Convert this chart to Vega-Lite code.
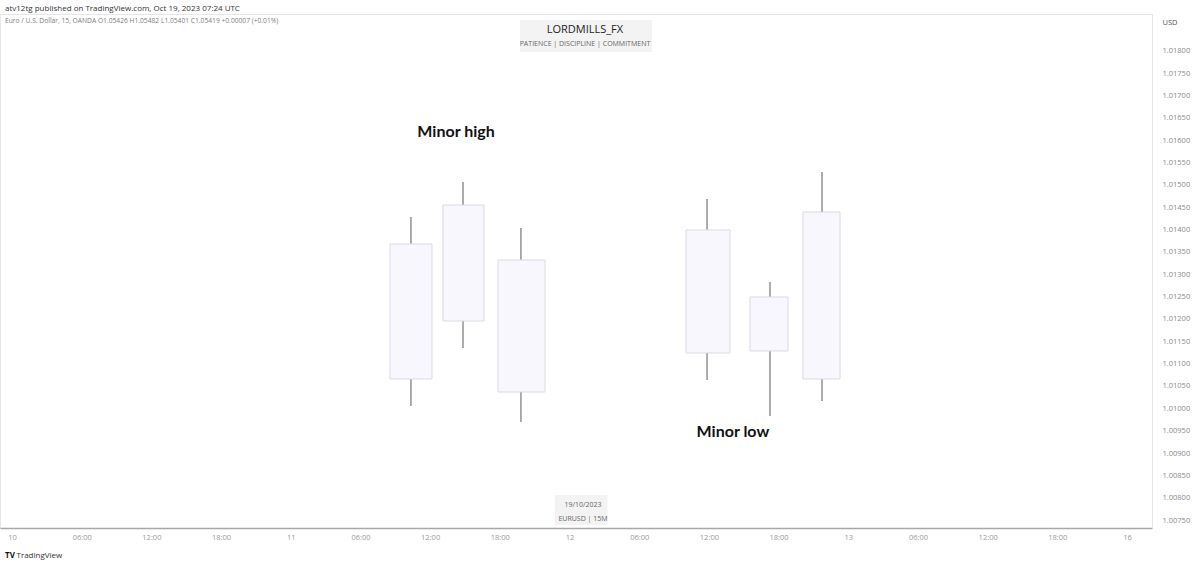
{
  "$schema": "https://vega.github.io/schema/vega-lite/v6.json",
  "width": 1152,
  "height": 514,
  "autosize": {"type": "none"},
  "padding": {"left": 0, "top": 14, "right": 48, "bottom": 36},
  "background": "white",
  "view": {"stroke": "#e6e6ea"},
  "title": {
    "text": "atv12tg published on TradingView.com, Oct 19, 2023 07:24 UTC",
    "anchor": "start",
    "dx": 5,
    "dy": 9,
    "offset": 2,
    "baseline": "bottom",
    "font": "Open Sans",
    "fontSize": 8,
    "fontWeight": "normal",
    "color": "#333333"
  },
  "config": {"font": "Open Sans"},
  "datasets": {
    "candles": [
      {"t": 34.35, "t0": 32.54, "t1": 36.16, "high": 1.014284, "top": 1.013679, "bottom": 1.010657, "low": 1.010052},
      {"t": 38.83, "t0": 37.11, "t1": 40.64, "high": 1.015067, "top": 1.014552, "bottom": 1.011955, "low": 1.011351},
      {"t": 43.82, "t0": 41.84, "t1": 45.89, "high": 1.014037, "top": 1.013321, "bottom": 1.010366, "low": 1.009694},
      {"t": 59.84, "t0": 58.03, "t1": 61.82, "high": 1.014687, "top": 1.013993, "bottom": 1.011239, "low": 1.010634},
      {"t": 65.26, "t0": 63.54, "t1": 66.81, "high": 1.012828, "top": 1.012493, "bottom": 1.011284, "low": 1.009828},
      {"t": 69.74, "t0": 68.10, "t1": 71.29, "high": 1.015291, "top": 1.014396, "bottom": 1.010657, "low": 1.010164}
    ]
  },
  "layer": [
    {
      "data": {"name": "candles"},
      "mark": {"type": "rule", "color": "#5a5a5a", "strokeWidth": 1},
      "encoding": {
        "x": {
          "field": "t", "type": "quantitative",
          "scale": {"domain": [-1.033, 98.15], "nice": false, "zero": false},
          "axis": {
            "orient": "bottom",
            "values": [0, 6, 12, 18, 24, 30, 36, 42, 48, 54, 60, 66, 72, 78, 84, 90, 96],
            "tickCount": 40,
            "labelExpr": "datum.value % 24 == 0 ? ['10','11','12','13','16'][datum.value / 24] : ((datum.value % 24 < 10 ? '0' : '') + (datum.value % 24) + ':00')",
            "labelFont": "Open Sans",
            "labelFontSize": 7.5,
            "labelColor": "#9a9a9a",
            "labelPadding": 5,
            "labelOverlap": false,
            "ticks": false,
            "grid": false,
            "domainColor": "#a8a8a8",
            "domainWidth": 1.5,
            "title": "TradingView",
            "titleX": 16,
            "titleY": 27,
            "titleAlign": "left",
            "titleBaseline": "middle",
            "titleFont": "Open Sans",
            "titleFontSize": 8,
            "titleFontWeight": "normal",
            "titleColor": "#333333"
          }
        },
        "y": {
          "field": "low", "type": "quantitative",
          "scale": {"domain": [1.007321, 1.018828], "nice": false, "zero": false},
          "axis": {
            "orient": "right",
            "values": [1.0075, 1.008, 1.0085, 1.009, 1.0095, 1.01, 1.0105, 1.011, 1.0115, 1.012, 1.0125, 1.013, 1.0135, 1.014, 1.0145, 1.015, 1.0155, 1.016, 1.0165, 1.017, 1.0175, 1.018],
            "tickCount": 40,
            "format": ".5f",
            "labelFont": "Open Sans",
            "labelFontSize": 7.5,
            "labelColor": "#8a8a8a",
            "labelPadding": 10,
            "labelAlign": "left",
            "labelOverlap": false,
            "labelFlush": false,
            "ticks": false,
            "grid": false,
            "domainColor": "#e6e6ea",
            "title": "USD",
            "titleAngle": 0,
            "titleX": 10,
            "titleY": 8,
            "titleAlign": "left",
            "titleBaseline": "middle",
            "titleFont": "Open Sans",
            "titleFontSize": 7.5,
            "titleFontWeight": "normal",
            "titleColor": "#555555"
          }
        },
        "y2": {"field": "high"}
      }
    },
    {
      "data": {"name": "candles"},
      "mark": {"type": "rect", "fill": "#f7f7fd", "stroke": "#dadae3", "strokeWidth": 1},
      "encoding": {
        "x": {"field": "t0", "type": "quantitative", "scale": {"domain": [-1.033, 98.15], "nice": false, "zero": false}},
        "x2": {"field": "t1"},
        "y": {"field": "bottom", "type": "quantitative", "scale": {"domain": [1.007321, 1.018828], "nice": false, "zero": false}},
        "y2": {"field": "top"}
      }
    },
    {
      "data": {"values": [
        {"x": 43.74, "x2": 55.10, "y": 1.018694, "y2": 1.017978},
        {"x": 46.75, "x2": 51.27, "y": 1.00806, "y2": 1.007388}
      ]},
      "mark": {"type": "rect", "fill": "#f3f3f3"},
      "encoding": {
        "x": {"field": "x", "type": "quantitative", "scale": {"domain": [-1.033, 98.15], "nice": false, "zero": false}},
        "x2": {"field": "x2"},
        "y": {"field": "y", "type": "quantitative", "scale": {"domain": [1.007321, 1.018828], "nice": false, "zero": false}},
        "y2": {"field": "y2"}
      }
    },
    {
      "data": {"values": [
        {"label": "Minor high", "x": 38.23, "y": 1.016187},
        {"label": "Minor low", "x": 62.07, "y": 1.00947}
      ]},
      "mark": {"type": "text", "font": "Lato", "fontSize": 16, "fontWeight": "bold", "color": "#111111", "align": "center", "baseline": "middle"},
      "encoding": {
        "x": {"field": "x", "type": "quantitative", "scale": {"domain": [-1.033, 98.15], "nice": false, "zero": false}},
        "y": {"field": "y", "type": "quantitative", "scale": {"domain": [1.007321, 1.018828], "nice": false, "zero": false}},
        "text": {"field": "label"}
      }
    },
    {
      "data": {"values": [
        {"label": "LORDMILLS_FX", "x": 49.33, "y": 1.01847}
      ]},
      "mark": {"type": "text", "fontSize": 11, "color": "#222222", "align": "center", "baseline": "middle"},
      "encoding": {
        "x": {"field": "x", "type": "quantitative", "scale": {"domain": [-1.033, 98.15], "nice": false, "zero": false}},
        "y": {"field": "y", "type": "quantitative", "scale": {"domain": [1.007321, 1.018828], "nice": false, "zero": false}},
        "text": {"field": "label"}
      }
    },
    {
      "data": {"values": [
        {"label": "PATIENCE | DISCIPLINE | COMMITMENT", "x": 49.33, "y": 1.018157},
        {"label": "19/10/2023", "x": 49.16, "y": 1.007836},
        {"label": "EURUSD | 15M", "x": 49.16, "y": 1.007522}
      ]},
      "mark": {"type": "text", "fontSize": 7, "color": "#666666", "align": "center", "baseline": "middle"},
      "encoding": {
        "x": {"field": "x", "type": "quantitative", "scale": {"domain": [-1.033, 98.15], "nice": false, "zero": false}},
        "y": {"field": "y", "type": "quantitative", "scale": {"domain": [1.007321, 1.018828], "nice": false, "zero": false}},
        "text": {"field": "label"}
      }
    },
    {
      "data": {"values": [
        {"label": "Euro / U.S. Dollar, 15, OANDA  O1.05426  H1.05482  L1.05401  C1.05419  +0.00007 (+0.01%)", "x": -0.6, "y": 1.018672}
      ]},
      "mark": {"type": "text", "fontSize": 6.7, "color": "#808080", "align": "left", "baseline": "middle"},
      "encoding": {
        "x": {"field": "x", "type": "quantitative", "scale": {"domain": [-1.033, 98.15], "nice": false, "zero": false}},
        "y": {"field": "y", "type": "quantitative", "scale": {"domain": [1.007321, 1.018828], "nice": false, "zero": false}},
        "text": {"field": "label"}
      }
    },
    {
      "data": {"values": [
        {"label": "TV", "x": -0.6, "y": 1.006695}
      ]},
      "mark": {"type": "text", "fontSize": 8, "fontWeight": "bold", "color": "#111111", "align": "left", "baseline": "middle"},
      "encoding": {
        "x": {"field": "x", "type": "quantitative", "scale": {"domain": [-1.033, 98.15], "nice": false, "zero": false}},
        "y": {"field": "y", "type": "quantitative", "scale": {"domain": [1.007321, 1.018828], "nice": false, "zero": false}},
        "text": {"field": "label"}
      }
    }
  ]
}
